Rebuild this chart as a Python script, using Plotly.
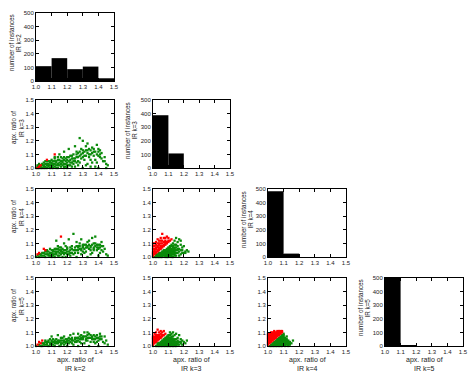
import plotly.graph_objects as go

# ---------------- data ----------------
bin_centers = [1.05, 1.15, 1.25, 1.35, 1.45]
hist_k2 = [109, 168, 87, 106, 20]
hist_k3 = [388, 107, 0, 0, 0]
hist_k4 = [483, 25, 0, 0, 0]
hist_k5 = [500, 4, 0, 0, 0]

ratio_ticks = [1.0, 1.1, 1.2, 1.3, 1.4, 1.5]
ratio_tick_labels = ["1.0", "1.1", "1.2", "1.3", "1.4", "1.5"]
count_ticks = [0, 100, 200, 300, 400, 500]

# k=3 (y) vs k=2 (x)
k3_k2_green = [(1.00,1.00),(1.01,1.00),(1.02,1.01),(1.03,1.00),(1.04,1.02),(1.05,1.01),(1.06,1.03),(1.07,1.00),(1.08,1.02),(1.09,1.04),
    (1.10,1.01),(1.11,1.03),(1.12,1.05),(1.02,1.03),(1.04,1.00),(1.06,1.01),(1.08,1.05),(1.10,1.03),(1.13,1.02),(1.14,1.06),
    (1.15,1.04),(1.16,1.01),(1.17,1.07),(1.18,1.03),(1.19,1.05),(1.20,1.08),(1.21,1.02),(1.22,1.06),(1.23,1.04),(1.24,1.10),
    (1.25,1.07),(1.26,1.12),(1.27,1.05),(1.28,1.09),(1.29,1.14),(1.30,1.11),(1.31,1.06),(1.32,1.16),(1.33,1.13),(1.34,1.08),
    (1.35,1.10),(1.36,1.15),(1.37,1.12),(1.38,1.06),(1.39,1.17),(1.40,1.09),(1.41,1.13),(1.42,1.11),(1.43,1.05),(1.44,1.08),
    (1.45,1.03),(1.46,1.02),(1.28,1.22),(1.30,1.20),(1.33,1.18),(1.25,1.16),(1.21,1.14),(1.18,1.12),(1.15,1.10),(1.12,1.08),
    (1.10,1.06),(1.13,1.00),(1.20,1.00),(1.25,1.01),(1.30,1.00),(1.35,1.01),(1.40,1.00),(1.45,1.00),(1.38,1.01),(1.33,1.03),
    (1.27,1.02),(1.23,1.01),(1.17,1.02),(1.05,1.04),(1.07,1.05),(1.09,1.02),(1.11,1.00),(1.14,1.03),(1.16,1.05),(1.19,1.01),
    (1.22,1.09),(1.26,1.04),(1.29,1.07),(1.31,1.12),(1.34,1.14),(1.37,1.09),(1.40,1.14),(1.42,1.07),(1.36,1.04),(1.32,1.09),
    (1.24,1.05),(1.18,1.08),(1.03,1.02),(1.01,1.01),(1.05,1.00),(1.07,1.02),(1.09,1.00),(1.11,1.02),(1.13,1.04),(1.15,1.02),
    (1.17,1.04),(1.19,1.03),(1.21,1.05),(1.23,1.07),(1.26,1.08),(1.28,1.04),(1.30,1.08),(1.32,1.02),(1.35,1.06),(1.39,1.04),
    (1.41,1.10),(1.44,1.05),(1.12,1.01),(1.14,1.00),(1.16,1.03),(1.18,1.00),(1.20,1.04),(1.22,1.02),(1.24,1.03),(1.27,1.11),
    (1.01,1.02),(1.02,1.00),(1.03,1.01),(1.04,1.03),(1.05,1.02),(1.06,1.00),(1.06,1.05),(1.07,1.03),(1.08,1.01),(1.08,1.03),
    (1.09,1.05),(1.10,1.00),(1.10,1.04),(1.11,1.02),(1.11,1.05),(1.12,1.03),(1.12,1.07),(1.13,1.05),(1.14,1.02),(1.14,1.08),
    (1.15,1.06),(1.16,1.03),(1.16,1.08),(1.17,1.05),(1.18,1.01),(1.18,1.06),(1.19,1.07),(1.20,1.02),(1.20,1.06),(1.21,1.08),
    (1.22,1.04),(1.23,1.09),(1.24,1.07),(1.25,1.05),(1.26,1.10),(1.27,1.08),(1.28,1.12),(1.29,1.10),(1.30,1.13),(1.31,1.09),
    (1.32,1.13),(1.33,1.11),(1.34,1.10),(1.35,1.13),(1.36,1.11),(1.37,1.14),(1.38,1.12),(1.39,1.10),(1.40,1.12),(1.41,1.08)]
k3_k2_red = [(1.01,1.00),(1.02,1.01),(1.03,1.02),(1.07,1.06),(1.12,1.10)]

# k=4 (y) vs k=2 (x)
k4_k2_green = [(1.00,1.00),(1.01,1.01),(1.02,1.00),(1.03,1.02),(1.04,1.01),(1.05,1.03),(1.06,1.00),(1.07,1.02),(1.08,1.04),(1.09,1.01),
    (1.10,1.03),(1.11,1.05),(1.12,1.02),(1.13,1.06),(1.14,1.04),(1.15,1.01),(1.16,1.07),(1.17,1.03),(1.18,1.05),(1.19,1.08),
    (1.20,1.02),(1.21,1.04),(1.22,1.01),(1.23,1.06),(1.24,1.17),(1.25,1.03),(1.26,1.08),(1.27,1.05),(1.28,1.10),(1.29,1.02),
    (1.30,1.07),(1.31,1.09),(1.32,1.04),(1.33,1.11),(1.34,1.06),(1.35,1.08),(1.36,1.03),(1.37,1.10),(1.38,1.15),(1.39,1.05),
    (1.40,1.09),(1.41,1.07),(1.42,1.11),(1.43,1.04),(1.44,1.06),(1.45,1.02),(1.46,1.01),(1.13,1.12),(1.18,1.10),(1.21,1.13),
    (1.29,1.13),(1.34,1.12),(1.36,1.14),(1.12,1.00),(1.19,1.00),(1.26,1.00),(1.33,1.00),(1.40,1.01),(1.06,1.04),(1.09,1.06),
    (1.14,1.08),(1.16,1.02),(1.20,1.06),(1.23,1.03),(1.27,1.08),(1.30,1.04),(1.32,1.07),(1.35,1.05),(1.37,1.07),(1.39,1.09),
    (1.41,1.03),(1.43,1.08),(1.11,1.02),(1.15,1.05),(1.17,1.00),(1.22,1.07),(1.25,1.05),(1.28,1.06),(1.31,1.03),(1.04,1.03),
    (1.07,1.05),(1.10,1.00),(1.38,1.08),(1.42,1.05),(1.26,1.11),(1.08,1.01),(1.10,1.02),(1.12,1.04),(1.14,1.01),(1.16,1.04),
    (1.18,1.02),(1.20,1.04),(1.22,1.03),(1.24,1.05),(1.27,1.03),(1.29,1.05),(1.33,1.08),(1.35,1.02),(1.37,1.05),(1.40,1.06),
    (1.13,1.03),(1.15,1.07),(1.19,1.03),(1.24,1.02),(1.30,1.09),
    (1.02,1.02),(1.03,1.01),(1.05,1.01),(1.06,1.02),(1.07,1.04),(1.08,1.02),(1.09,1.03),(1.10,1.05),(1.11,1.01),(1.11,1.04),
    (1.12,1.06),(1.13,1.02),(1.13,1.04),(1.14,1.06),(1.15,1.03),(1.16,1.05),(1.17,1.04),(1.17,1.06),(1.18,1.03),(1.19,1.05),
    (1.20,1.07),(1.21,1.02),(1.22,1.05),(1.23,1.08),(1.25,1.07),(1.26,1.05),(1.27,1.07),(1.28,1.08),(1.29,1.06),(1.30,1.08),
    (1.31,1.06),(1.32,1.09),(1.33,1.07),(1.34,1.09),(1.35,1.07),(1.36,1.09),(1.37,1.06),(1.38,1.10),(1.39,1.07),(1.40,1.07),
    (1.41,1.09),(1.42,1.08)]
k4_k2_red = [(1.01,1.02),(1.02,1.03),(1.05,1.06),(1.06,1.05),(1.16,1.15)]

# k=5 (y) vs k=2 (x)
k5_k2_green = [(1.00,1.00),(1.02,1.01),(1.04,1.00),(1.05,1.02),(1.06,1.01),(1.07,1.03),(1.08,1.00),(1.09,1.02),(1.10,1.04),(1.11,1.01),
    (1.12,1.03),(1.13,1.05),(1.14,1.02),(1.15,1.00),(1.16,1.04),(1.17,1.06),(1.18,1.01),(1.19,1.03),(1.20,1.05),(1.21,1.02),
    (1.22,1.08),(1.23,1.04),(1.24,1.01),(1.25,1.06),(1.26,1.03),(1.27,1.09),(1.28,1.05),(1.29,1.02),(1.30,1.07),(1.31,1.10),
    (1.32,1.04),(1.33,1.06),(1.34,1.09),(1.35,1.03),(1.36,1.05),(1.37,1.08),(1.38,1.02),(1.39,1.06),(1.40,1.04),(1.41,1.09),
    (1.42,1.05),(1.43,1.03),(1.44,1.07),(1.45,1.04),(1.46,1.01),(1.10,1.07),(1.14,1.08),(1.18,1.07),(1.24,1.09),(1.29,1.08),
    (1.33,1.10),(1.12,1.00),(1.20,1.00),(1.27,1.00),(1.34,1.00),(1.40,1.00),(1.06,1.04),(1.09,1.05),(1.11,1.03),(1.13,1.02),
    (1.15,1.04),(1.17,1.02),(1.19,1.05),(1.21,1.04),(1.23,1.02),(1.25,1.03),(1.28,1.03),(1.30,1.05),(1.32,1.07),(1.36,1.07),
    (1.38,1.05),(1.42,1.07),(1.03,1.00),(1.08,1.03),(1.16,1.01),(1.22,1.05),(1.26,1.06),(1.31,1.02),(1.35,1.06),(1.39,1.03),
    (1.07,1.01),(1.10,1.02),(1.12,1.04),(1.14,1.03),(1.16,1.02),(1.18,1.04),(1.20,1.03),(1.23,1.06),(1.27,1.04),(1.29,1.06),
    (1.33,1.04),(1.37,1.03),(1.41,1.05),(1.44,1.02),
    (1.04,1.02),(1.05,1.01),(1.06,1.03),(1.07,1.02),(1.08,1.04),(1.09,1.01),(1.10,1.03),(1.11,1.05),(1.12,1.02),(1.13,1.03),
    (1.14,1.04),(1.15,1.03),(1.16,1.06),(1.17,1.04),(1.18,1.03),(1.19,1.02),(1.20,1.04),(1.21,1.06),(1.22,1.03),(1.23,1.05),
    (1.24,1.04),(1.25,1.05),(1.26,1.04),(1.27,1.06),(1.28,1.07),(1.29,1.05),(1.30,1.06),(1.31,1.07),(1.32,1.05),(1.33,1.08),
    (1.34,1.06),(1.35,1.08),(1.36,1.06),(1.37,1.05),(1.38,1.07),(1.39,1.08),(1.40,1.06),(1.41,1.07)]
k5_k2_red = [(1.01,1.01),(1.02,1.03),(1.03,1.02),(1.04,1.04)]

# k=4 (y) vs k=3 (x)
k4_k3_green = [(1.00,1.00),(1.01,1.00),(1.02,1.01),(1.03,1.00),(1.03,1.02),(1.04,1.01),(1.05,1.03),(1.05,1.00),(1.06,1.02),(1.06,1.04),
    (1.07,1.01),(1.07,1.05),(1.08,1.03),(1.08,1.00),(1.09,1.06),(1.09,1.02),(1.10,1.04),(1.10,1.07),(1.10,1.00),(1.11,1.01),
    (1.11,1.05),(1.11,1.08),(1.12,1.03),(1.12,1.06),(1.12,1.09),(1.13,1.00),(1.13,1.04),(1.13,1.10),(1.14,1.02),(1.14,1.07),
    (1.14,1.12),(1.15,1.05),(1.15,1.14),(1.15,1.01),(1.16,1.08),(1.16,1.03),(1.16,1.11),(1.17,1.06),(1.17,1.13),(1.18,1.02),
    (1.18,1.09),(1.19,1.05),(1.19,1.07),(1.20,1.03),(1.20,1.08),(1.21,1.04),(1.22,1.05),(1.23,1.04),(1.04,1.03),(1.07,1.03),
    (1.09,1.04),(1.02,1.00),(1.06,1.00),(1.08,1.05),(1.10,1.02),(1.12,1.00),(1.14,1.04),(1.15,1.09),(1.17,1.01),(1.18,1.12),
    (1.13,1.07),(1.11,1.03),(1.09,1.00),(1.05,1.02),(1.04,1.00),
    (1.02,1.02),(1.03,1.01),(1.04,1.02),(1.05,1.01),(1.06,1.01),(1.06,1.03),(1.07,1.02),(1.07,1.04),(1.08,1.01),(1.08,1.02),
    (1.08,1.04),(1.09,1.01),(1.09,1.03),(1.09,1.05),(1.10,1.01),(1.10,1.03),(1.10,1.05),(1.10,1.06),(1.11,1.02),(1.11,1.04),
    (1.11,1.06),(1.11,1.07),(1.12,1.01),(1.12,1.02),(1.12,1.04),(1.12,1.05),(1.12,1.08),(1.13,1.02),(1.13,1.03),(1.13,1.05),
    (1.13,1.06),(1.13,1.08),(1.14,1.01),(1.14,1.03),(1.14,1.05),(1.14,1.06),(1.14,1.09),(1.15,1.03),(1.15,1.07),(1.16,1.05),
    (1.16,1.06),(1.17,1.04),(1.18,1.05),(1.19,1.03),(1.21,1.03)]
k4_k3_red = [(1.00,1.01),(1.00,1.03),(1.00,1.06),(1.00,1.10),(1.01,1.02),(1.01,1.05),(1.01,1.08),(1.02,1.03),(1.02,1.06),(1.02,1.11),
    (1.03,1.04),(1.03,1.07),(1.03,1.13),(1.04,1.05),(1.04,1.09),(1.05,1.06),(1.05,1.12),(1.06,1.07),(1.06,1.17),(1.06,1.10),
    (1.07,1.08),(1.07,1.14),(1.08,1.09),(1.08,1.11),(1.09,1.10),(1.09,1.15),(1.10,1.11),(1.11,1.12),(1.12,1.13),(1.02,1.09),
    (1.04,1.12),(1.05,1.08),(1.08,1.14),(1.01,1.04),(1.03,1.10),
    (1.00,1.02),(1.00,1.04),(1.00,1.08),(1.01,1.03),(1.01,1.06),(1.01,1.10),(1.02,1.04),(1.02,1.07),(1.03,1.05),(1.03,1.08),
    (1.04,1.06),(1.04,1.07),(1.04,1.10),(1.05,1.07),(1.05,1.10),(1.06,1.08),(1.06,1.12),(1.07,1.09),(1.07,1.11),(1.08,1.10),
    (1.08,1.12),(1.09,1.11),(1.10,1.12),(1.10,1.14),(1.05,1.14)]

# k=5 (y) vs k=3 (x)
k5_k3_green = [(1.00,1.00),(1.02,1.00),(1.03,1.01),(1.04,1.00),(1.04,1.02),(1.05,1.01),(1.05,1.03),(1.06,1.00),(1.06,1.02),(1.06,1.04),
    (1.07,1.01),(1.07,1.03),(1.07,1.05),(1.08,1.00),(1.08,1.02),(1.08,1.04),(1.08,1.06),(1.09,1.01),(1.09,1.03),(1.09,1.05),
    (1.09,1.07),(1.10,1.00),(1.10,1.02),(1.10,1.04),(1.10,1.08),(1.11,1.01),(1.11,1.03),(1.11,1.06),(1.11,1.10),(1.12,1.00),
    (1.12,1.02),(1.12,1.05),(1.12,1.09),(1.13,1.01),(1.13,1.04),(1.13,1.07),(1.14,1.00),(1.14,1.03),(1.14,1.08),(1.15,1.02),
    (1.15,1.05),(1.16,1.01),(1.16,1.06),(1.17,1.03),(1.17,1.08),(1.18,1.02),(1.18,1.05),(1.19,1.01),(1.19,1.04),(1.20,1.03),
    (1.21,1.02),(1.22,1.04),(1.15,1.09),(1.13,1.10),(1.16,1.04),(1.05,1.00),(1.07,1.00),(1.09,1.00),(1.11,1.00),(1.13,1.00),
    (1.15,1.00),(1.12,1.07),(1.10,1.06),(1.14,1.05),
    (1.03,1.00),(1.03,1.02),(1.04,1.01),(1.05,1.02),(1.06,1.01),(1.06,1.03),(1.07,1.02),(1.07,1.04),(1.08,1.01),(1.08,1.03),
    (1.08,1.05),(1.09,1.02),(1.09,1.04),(1.09,1.06),(1.10,1.01),(1.10,1.03),(1.10,1.05),(1.10,1.07),(1.11,1.02),(1.11,1.04),
    (1.11,1.05),(1.11,1.08),(1.12,1.01),(1.12,1.03),(1.12,1.04),(1.12,1.06),(1.13,1.02),(1.13,1.03),(1.13,1.05),(1.14,1.01),
    (1.14,1.02),(1.14,1.04),(1.15,1.01),(1.15,1.03),(1.16,1.02),(1.16,1.03),(1.17,1.01),(1.18,1.03)]
k5_k3_red = [(1.00,1.01),(1.00,1.03),(1.00,1.05),(1.00,1.07),(1.01,1.02),(1.01,1.04),(1.01,1.06),(1.01,1.09),(1.02,1.03),(1.02,1.05),
    (1.02,1.08),(1.03,1.04),(1.03,1.06),(1.03,1.12),(1.04,1.05),(1.04,1.07),(1.04,1.10),(1.05,1.06),(1.05,1.09),(1.05,1.11),
    (1.06,1.07),(1.06,1.10),(1.07,1.08),(1.07,1.11),(1.08,1.09),(1.02,1.10),(1.03,1.08),
    (1.00,1.02),(1.00,1.04),(1.00,1.06),(1.01,1.03),(1.01,1.05),(1.01,1.07),(1.02,1.04),(1.02,1.06),(1.03,1.05),(1.03,1.07),
    (1.04,1.06),(1.04,1.08),(1.05,1.07),(1.06,1.08),(1.02,1.07)]

# k=5 (y) vs k=4 (x)
k5_k4_green = [(1.01,1.00),(1.02,1.01),(1.03,1.00),(1.03,1.02),(1.04,1.01),(1.04,1.03),(1.05,1.00),(1.05,1.02),(1.05,1.04),(1.06,1.01),
    (1.06,1.03),(1.06,1.05),(1.07,1.00),(1.07,1.02),(1.07,1.04),(1.07,1.06),(1.08,1.01),(1.08,1.03),(1.08,1.05),(1.08,1.07),
    (1.09,1.00),(1.09,1.02),(1.09,1.04),(1.09,1.06),(1.09,1.08),(1.10,1.01),(1.10,1.03),(1.10,1.05),(1.10,1.07),(1.10,1.09),
    (1.11,1.00),(1.11,1.02),(1.11,1.04),(1.11,1.06),(1.12,1.01),(1.12,1.03),(1.12,1.05),(1.13,1.02),(1.13,1.04),(1.14,1.01),
    (1.14,1.03),(1.15,1.02),(1.16,1.04),(1.13,1.00),(1.12,1.07),(1.04,1.00),(1.06,1.00),(1.08,1.00),(1.02,1.00),
    (1.03,1.01),(1.04,1.02),(1.05,1.01),(1.05,1.03),(1.06,1.02),(1.06,1.04),(1.07,1.01),(1.07,1.03),(1.07,1.05),(1.08,1.02),
    (1.08,1.04),(1.08,1.06),(1.09,1.01),(1.09,1.03),(1.09,1.05),(1.09,1.07),(1.10,1.02),(1.10,1.04),(1.10,1.06),(1.10,1.08),
    (1.11,1.01),(1.11,1.03),(1.11,1.05),(1.12,1.02),(1.12,1.04),(1.13,1.01),(1.13,1.03),(1.14,1.02)]
k5_k4_red = [(1.00,1.01),(1.00,1.03),(1.00,1.05),(1.00,1.07),(1.01,1.02),(1.01,1.04),(1.01,1.06),(1.01,1.08),(1.02,1.03),(1.02,1.05),
    (1.02,1.07),(1.02,1.09),(1.03,1.04),(1.03,1.06),(1.03,1.08),(1.03,1.10),(1.04,1.05),(1.04,1.07),(1.04,1.09),(1.05,1.06),
    (1.05,1.08),(1.05,1.10),(1.06,1.07),(1.06,1.09),(1.06,1.11),(1.07,1.08),(1.07,1.10),(1.08,1.09),(1.08,1.11),(1.09,1.10),
    (1.00,1.09),(1.02,1.10),(1.04,1.11),
    (1.00,1.02),(1.00,1.04),(1.00,1.06),(1.00,1.08),(1.01,1.03),(1.01,1.05),(1.01,1.07),(1.01,1.09),(1.02,1.04),(1.02,1.06),
    (1.02,1.08),(1.03,1.05),(1.03,1.07),(1.03,1.09),(1.04,1.06),(1.04,1.08),(1.04,1.10),(1.05,1.07),(1.05,1.09),(1.06,1.08),
    (1.06,1.10),(1.07,1.09),(1.07,1.11),(1.08,1.10),(1.09,1.11)]

# ---------------- layout ----------------
W, H = 474, 379
col_px = [(36, 114), (153, 230), (268, 346), (385, 463)]
row_px = [(13, 81), (100, 168), (189, 257), (278, 346)]

def xdom(c):
    a, b = col_px[c]
    return [a / W, b / W]

def ydom(r):
    a, b = row_px[r]
    return [1 - b / H, 1 - a / H]

GREEN = "#0a8a0a"
RED = "#ff0000"
TXT = "#222222"
FONT = "Liberation Sans"

fig = go.Figure()
layout = dict(width=W, height=H, margin=dict(l=0, r=0, t=0, b=0, autoexpand=False),
              paper_bgcolor="white", plot_bgcolor="white", showlegend=False,
              font=dict(family=FONT, color=TXT, size=6))

common_axis = dict(showline=True, linecolor="black", linewidth=1, mirror="ticks",
                   ticks="inside", ticklen=3, tickcolor="black", showgrid=False,
                   zeroline=False, automargin=False,
                   tickfont=dict(size=6, family=FONT, color=TXT))

panels = [
    (0, 0, "hist", hist_k2, 2, 2),
    (1, 0, "scat", (k3_k2_green, k3_k2_red), 3, 2),
    (1, 1, "hist", hist_k3, 3, 3),
    (2, 0, "scat", (k4_k2_green, k4_k2_red), 4, 2),
    (2, 1, "scat", (k4_k3_green, k4_k3_red), 4, 3),
    (2, 2, "hist", hist_k4, 4, 4),
    (3, 0, "scat", (k5_k2_green, k5_k2_red), 5, 2),
    (3, 1, "scat", (k5_k3_green, k5_k3_red), 5, 3),
    (3, 2, "scat", (k5_k4_green, k5_k4_red), 5, 4),
    (3, 3, "hist", hist_k5, 5, 5),
]

annotations = []

def vtitle(lines, x_px_list, yc_px, size):
    for line, xp in zip(lines, x_px_list):
        annotations.append(dict(text=line, x=xp / W, y=1 - yc_px / H, xref="paper", yref="paper",
                                xanchor="center", yanchor="middle", textangle=-90,
                                showarrow=False, font=dict(size=size, family=FONT, color=TXT)))

def htitle(lines, xc_px, y_px_list, size):
    for line, yp in zip(lines, y_px_list):
        annotations.append(dict(text=line, x=xc_px / W, y=1 - yp / H, xref="paper", yref="paper",
                                xanchor="center", yanchor="middle",
                                showarrow=False, font=dict(size=size, family=FONT, color=TXT)))

MS = 2.3
for i, (r, c, kind, data, kr, kc) in enumerate(panels, start=1):
    xa = f"x{i}" if i > 1 else "x"
    ya = f"y{i}" if i > 1 else "y"
    xkey = f"xaxis{i}" if i > 1 else "xaxis"
    ykey = f"yaxis{i}" if i > 1 else "yaxis"
    left, right = col_px[c]
    top, bottom = row_px[r]
    xaxis = dict(common_axis, domain=xdom(c), anchor=ya, range=[1.0, 1.5],
                 tickvals=ratio_ticks, ticktext=ratio_tick_labels)
    if kind == "hist":
        fig.add_trace(go.Bar(x=bin_centers, y=data, width=0.1, xaxis=xa, yaxis=ya,
                             marker=dict(color="black", line=dict(width=0))))
        yaxis = dict(common_axis, domain=ydom(r), anchor=xa, range=[0, 500],
                     tickvals=count_ticks)
        vtitle(["number of instances", f"IR k={kr}"], [left - 25, left - 18.5],
               (top + bottom) / 2 - 4, 6.3)
    else:
        green, red = data
        fig.add_trace(go.Scatter(x=[p[0] for p in green], y=[p[1] for p in green],
                                 mode="markers", xaxis=xa, yaxis=ya, cliponaxis=False,
                                 marker=dict(color=GREEN, size=MS, symbol="square",
                                             line=dict(width=0))))
        fig.add_trace(go.Scatter(x=[p[0] for p in red], y=[p[1] for p in red],
                                 mode="markers", xaxis=xa, yaxis=ya, cliponaxis=False,
                                 marker=dict(color=RED, size=MS, symbol="square",
                                             line=dict(width=0))))
        yaxis = dict(common_axis, domain=ydom(r), anchor=xa, range=[1.0, 1.5],
                     tickvals=ratio_ticks, ticktext=ratio_tick_labels)
        if c == 0:
            vtitle(["apx. ratio of", f"IR k={kr}"], [left - 22, left - 15.5],
                   (top + bottom) / 2 - 6, 6.3)
    if r == 3:
        htitle(["apx. ratio of", f"IR k={kc}"], (left + right) / 2, [360, 368], 7)
    layout[xkey] = xaxis
    layout[ykey] = yaxis

layout["annotations"] = annotations
fig.update_layout(**layout)
fig.write_html("out.html", config={"displayModeBar": False},
               post_script="document.body.style.margin='0';document.body.style.overflow='hidden';")
